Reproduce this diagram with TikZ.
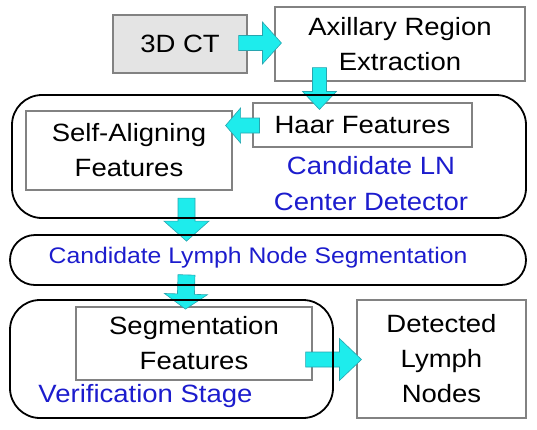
\documentclass[tikz,border=0pt]{standalone}
\usepackage{fontspec}
\setmainfont{Liberation Sans}[FakeStretch=1.1]
\usetikzlibrary{calc}
\pgfdeclarelayer{front}
\pgfsetlayers{main,front}
\definecolor{arrowcyan}{RGB}{30,236,236}
\definecolor{arrowedge}{RGB}{40,165,175}
\definecolor{lblblue}{RGB}{28,28,205}
\definecolor{boxgray}{RGB}{130,130,130}
\definecolor{ctfill}{RGB}{228,228,228}
\tikzset{
  stepbox/.style={draw=boxgray, line width=1.1pt, fill=white, inner sep=0pt, align=center, font=\fontsize{25}{35}\selectfont},
  stage/.style={draw=black, line width=1.8pt, inner sep=0pt},
  bluelbl/.style={text=lblblue, align=center, inner sep=0pt, font=\fontsize{25}{36}\selectfont},
  blockfill/.style={fill=arrowcyan, draw=arrowedge, line width=0.6pt, line join=miter},
}
% block arrow: start, end, half shaft, half head, head length
\newcommand{\blockarr}[5]{%
  \filldraw[blockfill] let \p1=(#1), \p2=(#2),
    \n1={atan2(\y2-\y1,\x2-\x1)}, \n2={veclen(\x2-\x1,\y2-\y1)}, \n3={\n2-#5} in
    ($(\p1)+(\n1+90:#3pt)$) -- ($(\p1)+(\n1:\n3)+(\n1+90:#3pt)$)
    -- ($(\p1)+(\n1:\n3)+(\n1+90:#4pt)$) -- (\p2)
    -- ($(\p1)+(\n1:\n3)+(\n1-90:#4pt)$) -- ($(\p1)+(\n1:\n3)+(\n1-90:#3pt)$)
    -- ($(\p1)+(\n1-90:#3pt)$) -- cycle;
}
\begin{document}
\begin{tikzpicture}[x=1pt,y=-1pt]
\useasboundingbox (0,0) rectangle (537,429);
% stage frames (drawn on the front layer)
\begin{pgfonlayer}{front}
\node[stage, minimum width=514pt, minimum height=123pt, rounded corners=30pt] (r1) at (269,156.5) {};
\node[stage, minimum width=516pt, minimum height=50pt, rounded corners=25pt] (r2) at (268,260) {};
\node[stage, minimum width=323pt, minimum height=118pt, rounded corners=30pt] (r3) at (171.5,359) {};
\end{pgfonlayer}
% boxes
\node[stepbox, fill=ctfill, minimum width=134pt, minimum height=58pt] (ct) at (180,44) {3D CT};
\node[stepbox, minimum width=250pt, minimum height=74pt] (ax) at (400,44) {Axillary Region\\Extraction};
\node[stepbox, minimum width=219pt, minimum height=44pt] (haar) at (362.5,125) {Haar Features};
\node[stepbox, minimum width=206pt, minimum height=79pt] (self) at (129,150.5) {Self-Aligning\\Features};
\node[stepbox, minimum width=236pt, minimum height=73pt] (seg) at (194,343.5) {Segmentation\\Features};
\node[stepbox, minimum width=169pt, minimum height=118pt] (det) at (441.5,359) {Detected\\Lymph\\Nodes};
% labels
\node[bluelbl] (cand) at (371,184) {Candidate LN\\Center Detector};
\node[bluelbl, font=\fontsize{22.5}{27}\selectfont] (seglbl) at (258,258) {Candidate Lymph Node Segmentation};
\node[bluelbl] (ver) at (145.5,396) {Verification Stage};
% arrows
\blockarr{$(ct.east)+(-9,-1)$}{$(ct.east -| ax.west)+(7,-1)$}{7.5}{21}{19}
\blockarr{$(ax.south west)+(45,-14)$}{$(haar.north west)+(67,7)$}{7}{17}{18}
\blockarr{$(haar.west)+(7,0.5)$}{$(haar.west -| self.east)+(-7,0.5)$}{7.5}{17.5}{15}
\blockarr{$(self.south)+(57.5,7.5)$}{$(r2.north)+(-81.5,7)$}{8.5}{22.5}{20}
\blockarr{$(r2.south)+(-81.5,-11)$}{$(r3.north)+(14,10)$}{8.5}{21.5}{15}
\blockarr{$(seg.east)+(-7,16)$}{$(det.west)+(5,0.5)$}{7.5}{21}{22}
\end{tikzpicture}
\end{document}
